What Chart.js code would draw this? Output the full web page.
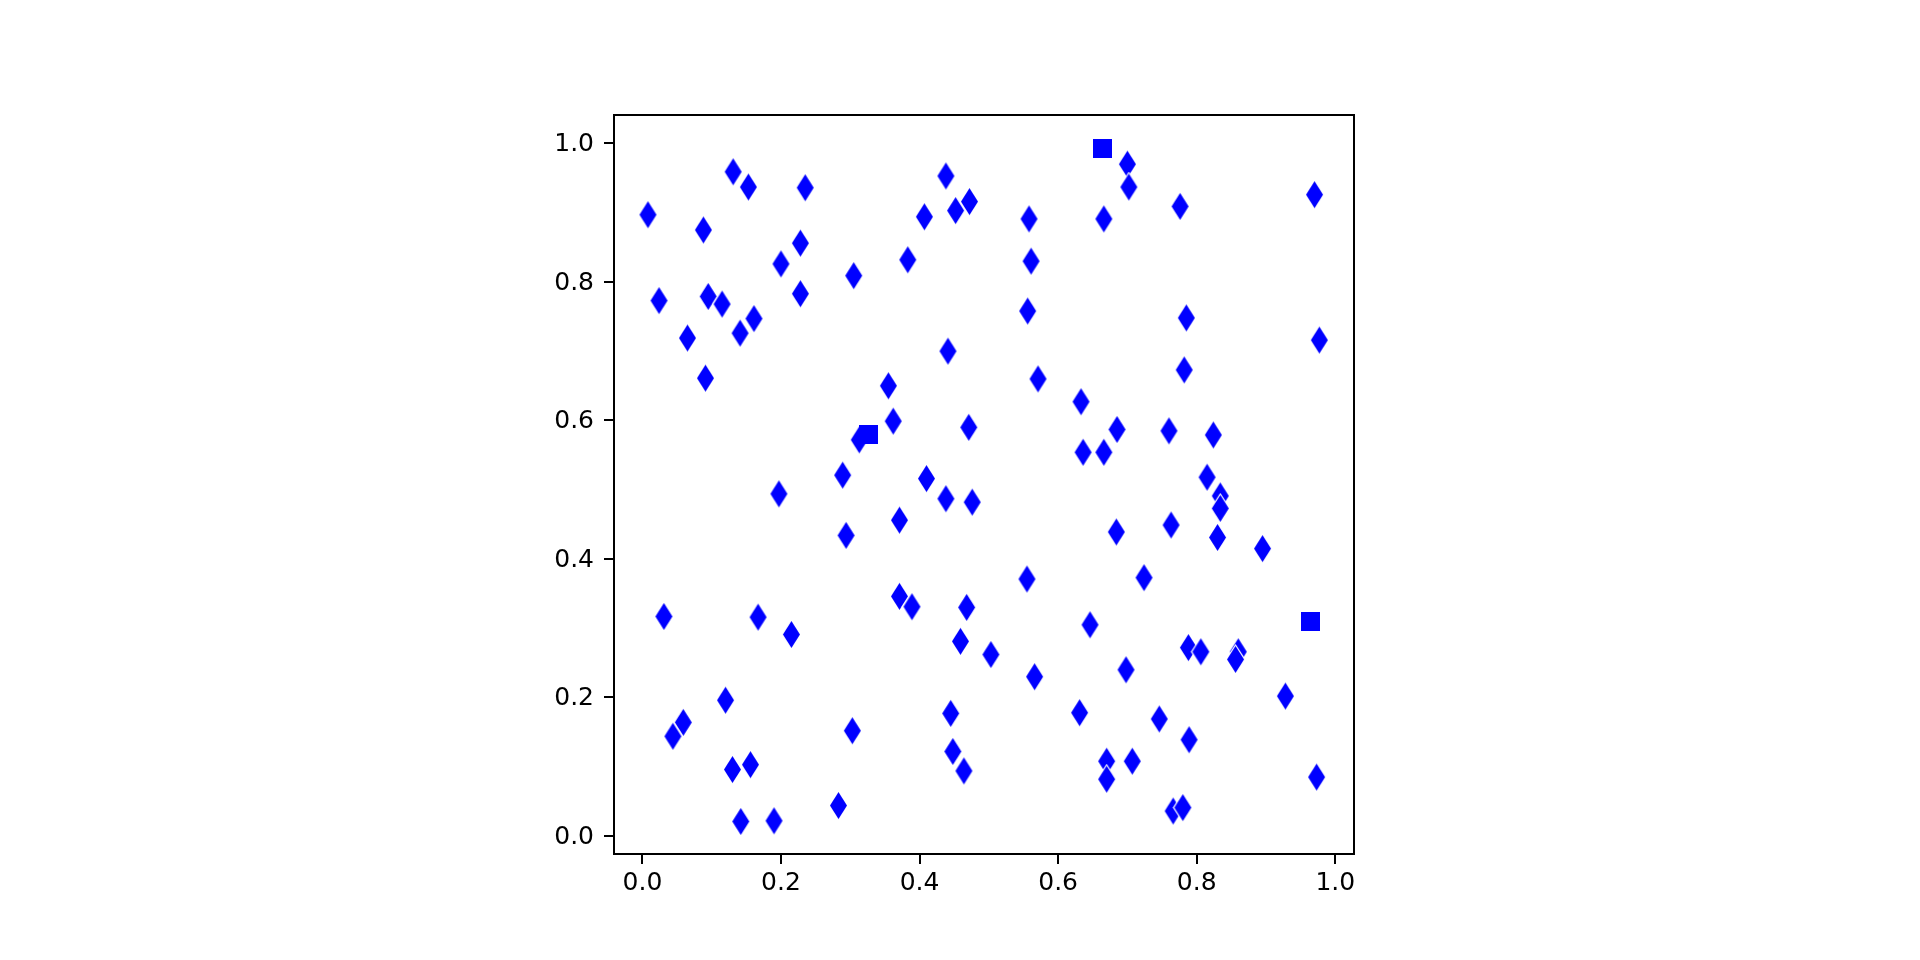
<!DOCTYPE html>
<html>
<head>
<meta charset="utf-8">
<script src="https://cdn.jsdelivr.net/npm/chart.js@4/dist/chart.umd.min.js"></script>
<style>
    html, body { margin: 0; padding: 0; background: #fff; }
    #wrap { width: 1920px; height: 960px; }
</style>
</head>
<body>
<div id="wrap"><canvas id="chart" width="1920" height="960"></canvas></div>
<script>
// Diamond markers (x, y)
const diamondX = [
    0.008, 0.131, 0.153, 0.235, 0.088, 0.407, 0.438, 0.452, 0.472, 0.228,
    0.200, 0.383, 0.305, 0.024, 0.095, 0.115, 0.228, 0.065, 0.161, 0.141,
    0.091, 0.441, 0.355, 0.362, 0.471, 0.313, 0.289, 0.410,
    0.700, 0.702, 0.970, 0.558, 0.666, 0.776, 0.561, 0.556, 0.785, 0.977,
    0.782, 0.571, 0.633, 0.685, 0.760, 0.824, 0.636, 0.666, 0.815,
    0.197, 0.438, 0.476, 0.371, 0.294, 0.371, 0.389, 0.468, 0.459, 0.031,
    0.167, 0.215, 0.120, 0.059, 0.044, 0.303, 0.445, 0.448, 0.464, 0.130,
    0.156, 0.283, 0.142, 0.190,
    0.834, 0.834, 0.830, 0.763, 0.684, 0.895, 0.555, 0.724, 0.646, 0.503,
    0.788, 0.806, 0.860, 0.856, 0.566, 0.698, 0.631, 0.746, 0.928, 0.789,
    0.670, 0.670, 0.707, 0.973, 0.766, 0.780
];
const diamondY = [
    0.897, 0.959, 0.937, 0.936, 0.875, 0.894, 0.953, 0.903, 0.916, 0.856,
    0.826, 0.832, 0.809, 0.773, 0.779, 0.768, 0.783, 0.719, 0.747, 0.726,
    0.661, 0.700, 0.650, 0.599, 0.590, 0.572, 0.521, 0.516,
    0.970, 0.937, 0.926, 0.891, 0.891, 0.909, 0.830, 0.758, 0.748, 0.716,
    0.673, 0.660, 0.627, 0.587, 0.585, 0.579, 0.554, 0.554, 0.518,
    0.494, 0.487, 0.482, 0.456, 0.434, 0.346, 0.331, 0.330, 0.281, 0.317,
    0.316, 0.291, 0.196, 0.164, 0.144, 0.152, 0.177, 0.122, 0.094, 0.096,
    0.103, 0.044, 0.021, 0.022,
    0.491, 0.473, 0.431, 0.449, 0.439, 0.415, 0.371, 0.373, 0.305, 0.262,
    0.272, 0.266, 0.266, 0.255, 0.230, 0.240, 0.178, 0.169, 0.202, 0.139,
    0.108, 0.082, 0.108, 0.085, 0.036, 0.041
];

// Square markers
const squareX = [0.664, 0.326, 0.964];
const squareY = [0.992, 0.580, 0.310];

// Tick labels
const xTicks = [0.0, 0.2, 0.4, 0.6, 0.8, 1.0];
const yTicks = [0.0, 0.2, 0.4, 0.6, 0.8, 1.0];

const BLUE = '#0000ff';

// Thin diamond marker with a white edge
function makeDiamond() {
    const c = document.createElement('canvas');
    c.width = 21;
    c.height = 31;
    const g = c.getContext('2d');
    const cx = 10.5, cy = 15.5;
    g.fillStyle = '#ffffff';
    g.beginPath();
    g.moveTo(cx, cy - 15.5);
    g.lineTo(cx + 10, cy);
    g.lineTo(cx, cy + 15.5);
    g.lineTo(cx - 10, cy);
    g.closePath();
    g.fill();
    g.fillStyle = BLUE;
    g.beginPath();
    g.moveTo(cx, cy - 13.5);
    g.lineTo(cx + 8.5, cy);
    g.lineTo(cx, cy + 13.5);
    g.lineTo(cx - 8.5, cy);
    g.closePath();
    g.fill();
    return c;
}

function makeSquare() {
    const c = document.createElement('canvas');
    c.width = 19;
    c.height = 19;
    const g = c.getContext('2d');
    g.fillStyle = BLUE;
    g.fillRect(0, 0, 19, 19);
    return c;
}

// Box around the plot area, like matplotlib spines
const frameBox = {
    id: 'frameBox',
    afterDatasetsDraw(chart) {
        const { ctx, chartArea: a } = chart;
        ctx.save();
        ctx.strokeStyle = '#000';
        ctx.lineWidth = 2;
        ctx.strokeRect(a.left, a.top, a.right - a.left, a.bottom - a.top);
        ctx.restore();
    }
};

const tickFont = { family: 'DejaVu Sans', size: 25 };

function axisOpts(min, max, ticks, pad) {
    return {
        type: 'linear',
        min: min,
        max: max,
        afterBuildTicks: (scale) => {
            scale.ticks = ticks.map(v => ({ value: v }));
        },
        ticks: {
            color: '#000',
            font: tickFont,
            padding: pad,
            maxRotation: 0,
            callback: (v) => Number(v).toFixed(1)
        },
        grid: {
            drawOnChartArea: false,
            drawTicks: true,
            tickLength: 10,
            tickWidth: 2,
            tickColor: '#000',
            lineWidth: 2,
            color: '#000'
        },
        border: { display: false }
    };
}

const xAxis = axisOpts(-0.041, 1.027, xTicks, 4);
xAxis.afterFit = (scale) => { scale.height = 80; };
const yAxis = axisOpts(-0.026, 1.041, yTicks, 10);
yAxis.ticks.labelOffset = 1.5;
yAxis.afterFit = (scale) => { scale.width = 100; };

const ctx = document.getElementById('chart').getContext('2d');
new Chart(ctx, {
    type: 'scatter',
    data: {
        datasets: [
            {
                label: 'squares',
                data: squareX.map((x, i) => ({ x: x, y: squareY[i] })),
                pointStyle: makeSquare(),
                pointRadius: 10,
                backgroundColor: BLUE,
                borderWidth: 0
            },
            {
                label: 'diamonds',
                data: diamondX.map((x, i) => ({ x: x, y: diamondY[i] })),
                pointStyle: makeDiamond(),
                pointRadius: 10,
                backgroundColor: BLUE,
                borderWidth: 0
            }
        ]
    },
    options: {
        responsive: false,
        animation: false,
        devicePixelRatio: 1,
        layout: {
            padding: { left: 514, right: 566, top: 115, bottom: 26 }
        },
        plugins: {
            legend: { display: false },
            tooltip: { enabled: false }
        },
        scales: {
            x: xAxis,
            y: yAxis
        }
    },
    plugins: [frameBox]
});
</script>
</body>
</html>
